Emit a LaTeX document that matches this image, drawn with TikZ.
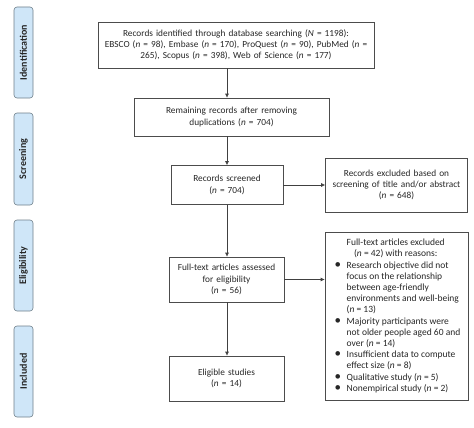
\documentclass[tikz,border=0pt]{standalone}
\usepackage{fontspec}
\setmainfont{Carlito}
\usetikzlibrary{arrows.meta,positioning}

\definecolor{phasefill}{HTML}{CFE6F8}
\definecolor{phaseline}{HTML}{6F7F8A}

% bullet, continuation indent and centred heading line of the exclusion list
\newcommand{\bul}{\makebox[14pt][l]{\hspace{2pt}{\fontsize{13}{8}\selectfont\textbullet}}}
\newcommand{\cont}{\hspace*{14pt}}
\newcommand{\head}[1]{\makebox[126pt][c]{#1}}

\begin{document}
\lineskiplimit=-5pt
\begin{tikzpicture}[x=1pt,y=-1pt,every node/.style={font=\fontsize{9.3}{11.3}\selectfont,text=black!85},box/.style={draw=black!70,line width=0.6pt,align=center,inner sep=2pt},phase/.style={draw=phaseline,fill=phasefill,line width=0.6pt,rounded corners=3pt,rotate=90,minimum height=19pt,inner sep=1pt,font=\fontsize{10}{12}\selectfont\bfseries},arr/.style={draw=black!75,line width=0.6pt,-{Latex[length=4pt,width=4pt]}}]
\useasboundingbox (0,0) rectangle (474,428);
% phases
\node[phase,minimum width=91pt] (phid) at (23.5,52.5) {Identification};
\node[phase,minimum width=92pt] (phscr) at (23.5,159) {Screening};
\node[phase,minimum width=91pt] (phelig) at (23.5,265.5) {Eligibility};
\node[phase,minimum width=91pt] (phincl) at (23.5,371.5) {Included};
% main column
\node[box,text width=272pt,minimum height=46pt] (ident) at (236,45) {Records identified through database searching (\textit{N} = 1198):\\ EBSCO (\textit{n} = 98), Embase (\textit{n} = 170), ProQuest (\textit{n} = 90), PubMed (\textit{n} =\\ 265), Scopus (\textit{n} = 398), Web of Science (\textit{n} = 177)};
\node[box,text width=191pt,minimum height=38pt] (remain) at (231.5,117) {Remaining records after removing\\ duplications (\textit{n} = 704)};
\node[box,text width=108pt,minimum height=39pt] (screen) at (227,185) {Records screened\\ (\textit{n} = 704)};
\node[box,text width=111pt,minimum height=45pt] (full) at (226.5,279.5) {Full-text articles assessed\\ for eligibility\\ (\textit{n} = 56)};
\node[box,text width=111pt,minimum height=45pt] (eligible) at (226.5,378.5) {Eligible studies\\ (\textit{n} = 14)};
% exclusions
\node[box,text width=138pt,minimum height=54pt] (excl) at (396.5,185) {Records excluded based on\\ screening of title and/or abstract\\ (\textit{n} = 648)};
\node[box,align=left,minimum width=143pt,minimum height=168pt,font=\fontsize{9.5}{11.2}\selectfont] (fullexcl) at (396.5,316) {\head{Full-text articles excluded}\\
\head{(\textit{n} = 42) with reasons:}\\
\bul Research objective did not\\
\cont focus on the relationship\\
\cont between age-friendly\\
\cont environments and well-being\\
\cont (\textit{n} = 13)\\
\bul Majority participants were\\
\cont not older people aged 60 and\\
\cont over (\textit{n} = 14)\\
\bul Insufficient data to compute\\
\cont effect size (\textit{n} = 8)\\
\bul Qualitative study (\textit{n} = 5)\\
\bul Nonempirical study (\textit{n} = 2)};
% arrows
\draw[arr] (ident.south -| screen) -- (remain.north -| screen);
\draw[arr] (remain.south -| screen) -- (screen.north);
\draw[arr] (screen.south) -- (full.north -| screen);
\draw[arr] (full.south -| screen) -- (eligible.north -| screen);
\draw[arr] (screen.east) -- (excl.west);
\draw[arr] (full.east) -- (full.east -| fullexcl.west);
\end{tikzpicture}
\end{document}
